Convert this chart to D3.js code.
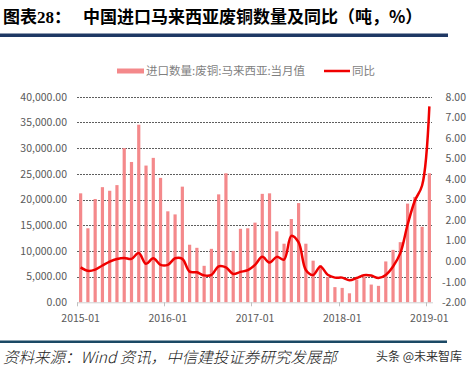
<!DOCTYPE html>
<html>
<head>
<meta charset="utf-8">
<script src="https://cdn.jsdelivr.net/npm/d3@7"></script>
<style>
  body { margin: 0; background: #fff; }
  svg { display: block; font-family: "Noto Sans CJK SC", "Noto Sans", sans-serif; }
</style>
</head>
<body>
<svg id="chart" width="472" height="370"></svg>
<script>
// Data
const months = d3.range(49).map(i => d3.timeFormat('%Y-%m')(new Date(2015, i, 1)));
const imports = [
  21200, 14400, 20100, 22400, 21700, 22800, 30000, 27300, 34550, 26600, 28100, 24200,
  17700, 17100, 22500, 11200, 10600, 7100, 10400, 21000, 25100, 10000, 14300, 14400,
  15500, 21100, 21200, 13800, 11400, 16200, 19300, 11400, 8100, 7200, 4900, 2950,
  2800, 1750, 4400, 4900, 3450, 3200, 7950, 10200, 11700, 19200, 20500, 14700,
  25100
];
const yoy = [
  -0.30, -0.47, -0.41, -0.21, -0.02, 0.11, 0.16, 0.11, 0.40, -0.13, 0.14, -0.18,
  -0.18, 0.14, 0.11, -0.51, -0.54, -0.69, -0.67, -0.25, -0.30, -0.62, -0.52, -0.44,
  -0.18, 0.21, -0.07, 0.21, 0.08, 1.23, 0.91, -0.43, -0.67, -0.26, -0.66, -0.80,
  -0.80, -0.93, -0.82, -0.68, -0.70, -0.82, -0.67, -0.26, 0.39, 1.77, 2.94, 3.68,
  7.53
];
const xTickLabels = ['2015-01', '2016-01', '2017-01', '2018-01', '2019-01'];
const leftTicks = [0, 5000, 10000, 15000, 20000, 25000, 30000, 35000, 40000];
const rightTicks = [-2, -1, 0, 1, 2, 3, 4, 5, 6, 7, 8];
const legendLabels = ['进口数量:废铜:马来西亚:当月值', '同比'];

// Colors
const barColor = '#F4898B';
const lineColor = '#F00000';
const axisText = '#595959';
const navy = '#1F3864';

// Layout
const plotLeft = 77, plotRight = 433, plotTop = 96.7, plotBottom = 302.3;

const svg = d3.select('#chart');

// Title
const title = svg.append('text')
  .attr('x', 3)
  .attr('y', 23)
  .attr('font-size', 17)
  .attr('font-weight', 'bold')
  .attr('fill', '#000');
title.append('tspan').text('图表');
title.append('tspan').attr('font-family', '"Liberation Serif", serif').text('28');
title.append('tspan').text('：');
svg.append('text')
  .attr('x', 83)
  .attr('y', 23)
  .attr('font-size', 17)
  .attr('font-weight', 'bold')
  .attr('fill', '#000')
  .text('中国进口马来西亚废铜数量及同比（吨，%）');

svg.append('rect')
  .attr('x', 0).attr('y', 33.5)
  .attr('width', 448).attr('height', 3.5)
  .attr('fill', navy);

// Scales
const x = d3.scaleBand()
  .domain(months)
  .range([plotLeft, plotRight])
  .paddingInner(0.56)
  .paddingOuter(0.28);
const yLeft = d3.scaleLinear().domain([0, 40000]).range([plotBottom, plotTop]);
const yRight = d3.scaleLinear().domain([-2, 8]).range([plotBottom, plotTop]);

// Gridlines
svg.append('g')
  .attr('stroke', '#5e5e5e')
  .attr('stroke-width', 1)
  .attr('stroke-dasharray', '2,1')
  .selectAll('line')
  .data(leftTicks.filter(d => d > 0))
  .join('line')
  .attr('x1', plotLeft).attr('x2', plotRight - 1)
  .attr('y1', d => Math.round(yLeft(d)) + 0.5)
  .attr('y2', d => Math.round(yLeft(d)) + 0.5);

// Left axis
const axisL = svg.append('g')
  .attr('transform', `translate(${plotLeft - 10},0)`)
  .call(d3.axisLeft(yLeft).tickValues(leftTicks).tickFormat(d3.format(',.2f')).tickSize(0).tickPadding(0));
axisL.select('.domain').remove();
axisL.selectAll('text')
  .attr('font-family', '"Noto Sans CJK SC", sans-serif')
  .attr('font-size', 10.5)
  .attr('fill', axisText);

// Right axis
const axisR = svg.append('g')
  .attr('transform', 'translate(466,0)')
  .call(d3.axisLeft(yRight).tickValues(rightTicks).tickFormat(d3.format('.2f')).tickSize(0).tickPadding(0));
axisR.select('.domain').remove();
axisR.selectAll('text')
  .attr('font-family', '"Noto Sans CJK SC", sans-serif')
  .attr('font-size', 10.5)
  .attr('fill', axisText)
  .text(d => d3.format('.2f')(d).replace('−', '-'));

// Bars
svg.append('g')
  .attr('fill', barColor)
  .selectAll('rect')
  .data(imports)
  .join('rect')
  .attr('x', (d, i) => x(months[i]))
  .attr('width', x.bandwidth())
  .attr('y', d => yLeft(d))
  .attr('height', d => plotBottom - yLeft(d));

// X axis line and ticks
svg.append('line')
  .attr('x1', plotLeft).attr('x2', plotRight)
  .attr('y1', plotBottom + 0.5).attr('y2', plotBottom + 0.5)
  .attr('stroke', '#d0d0d0');
const step = x.step();
svg.append('g')
  .attr('stroke', '#c0c0c0')
  .selectAll('line')
  .data(xTickLabels)
  .join('line')
  .attr('x1', d => Math.round(plotLeft + months.indexOf(d) * step) + 0.5)
  .attr('x2', d => Math.round(plotLeft + months.indexOf(d) * step) + 0.5)
  .attr('y1', plotBottom)
  .attr('y2', plotBottom + 4);
svg.append('g')
  .selectAll('text')
  .data(xTickLabels)
  .join('text')
  .attr('x', d => x(d) + x.bandwidth() / 2)
  .attr('y', 322)
  .attr('text-anchor', 'middle')
  .attr('font-size', 10.5)
  .attr('fill', axisText)
  .text(d => d);

// Line
const line = d3.line()
  .x((d, i) => x(months[i]) + x.bandwidth() / 2)
  .y(d => yRight(d))
  .curve(d3.curveCatmullRom.alpha(0.5));
svg.append('path')
  .datum(yoy)
  .attr('fill', 'none')
  .attr('stroke', lineColor)
  .attr('stroke-width', 2.5)
  .attr('stroke-linejoin', 'round')
  .attr('d', line);

// Legend
const legend = svg.append('g').attr('font-size', 11.5).attr('fill', '#7f7f7f');
legend.append('rect')
  .attr('x', 117).attr('y', 68.5)
  .attr('width', 27).attr('height', 5)
  .attr('fill', barColor);
legend.append('text')
  .attr('x', 146).attr('y', 75)
  .text(legendLabels[0]);
legend.append('line')
  .attr('x1', 324).attr('x2', 350)
  .attr('y1', 71).attr('y2', 71)
  .attr('stroke', lineColor)
  .attr('stroke-width', 2.5);
legend.append('text')
  .attr('x', 352).attr('y', 75)
  .text(legendLabels[1]);

// Footer
svg.append('rect')
  .attr('x', 0).attr('y', 340.5)
  .attr('width', 447).attr('height', 2.5)
  .attr('fill', '#1B4965');
svg.append('text')
  .attr('x', 3)
  .attr('y', 363)
  .attr('font-size', 15.5)
  .attr('font-style', 'italic')
  .attr('font-weight', 300)
  .attr('fill', '#222')
  .text('资料来源：Wind 资讯，中信建投证券研究发展部');
svg.append('text')
  .attr('x', 376)
  .attr('y', 361)
  .attr('font-size', 12)
  .attr('fill', '#333')
  .text('头条 @未来智库');
</script>
</body>
</html>
